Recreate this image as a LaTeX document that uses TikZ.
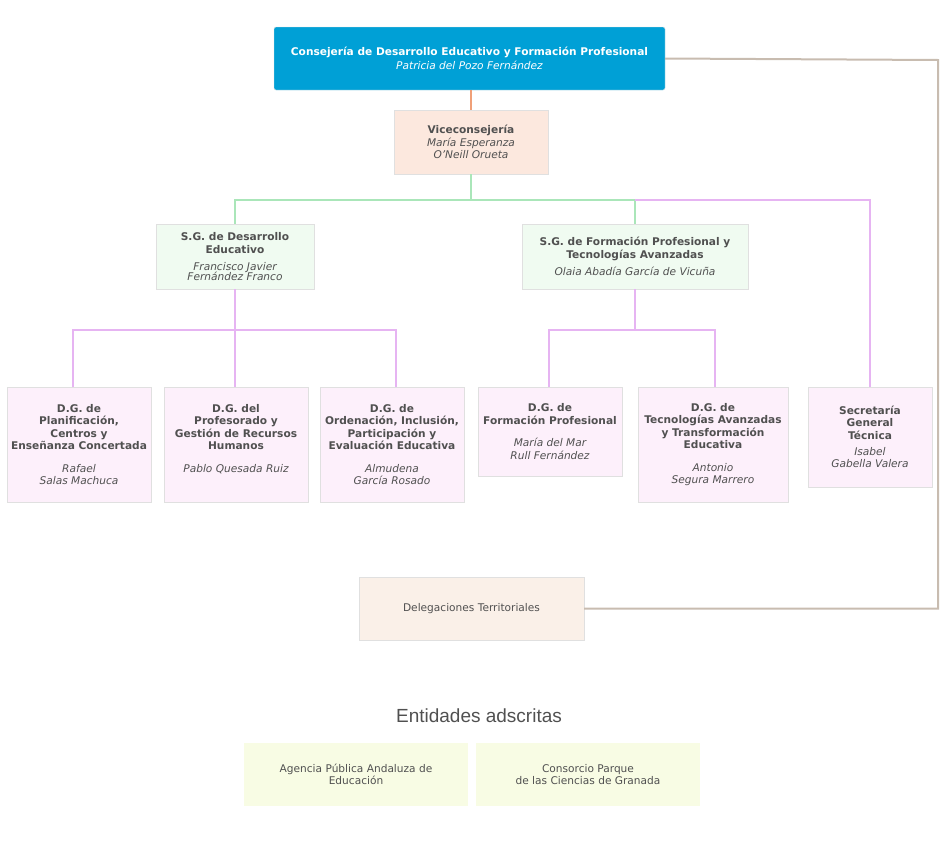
\documentclass[tikz,border=0pt]{standalone}
\usepackage{fontspec}
\setmainfont{DejaVu Sans}
\newfontfamily\titlefont{Liberation Sans}
\usetikzlibrary{positioning}
\definecolor{topblue}{RGB}{0,160,214}
\definecolor{vicefill}{RGB}{252,232,222}
\definecolor{sgfill}{RGB}{240,251,241}
\definecolor{dgfill}{RGB}{253,240,251}
\definecolor{delfill}{RGB}{250,240,232}
\definecolor{entfill}{RGB}{248,252,228}
\definecolor{lnorange}{RGB}{240,160,120}
\definecolor{lngreen}{RGB}{170,230,185}
\definecolor{lnpink}{RGB}{230,180,242}
\definecolor{lnbrown}{RGB}{200,188,176}
\definecolor{txtgray}{RGB}{80,80,80}
\tikzset{
  box/.style = {draw=black!12, text=txtgray, align=center, inner sep=2pt,
    font=\fontsize{10.6}{12.4}\selectfont, minimum height=#1},
  box/.default = 64pt,
  conn/.style = {line width=2pt},
}
\newcommand{\nm}[1]{{\itshape #1}}
\begin{document}
\begin{tikzpicture}[x=1pt, y=-1pt]
  \useasboundingbox (0,0) rectangle (940,849);
  % main nodes
  \node (cons) [box=63pt, fill=topblue, text=white, minimum width=391pt, rounded corners=2pt]
    at (469.5,58.5) {\textbf{Consejería de Desarrollo Educativo y Formación Profesional}\\[2pt]\nm{Patricia del Pozo Fernández}};
  \node (vice) [box, fill=vicefill, minimum width=154pt] at (471,142)
    {\textbf{Viceconsejería}\\\nm{María Esperanza}\\\nm{O’Neill Orueta}};
  \node (sg1) [box=65pt, fill=sgfill, minimum width=158pt] at (235,256.5)
    {\textbf{S.G. de Desarrollo}\\\textbf{Educativo}\\[5pt]\nm{Francisco Javier}\\[-3pt]\nm{Fernández Franco}};
  \node (sg2) [box=65pt, fill=sgfill, minimum width=226pt] at (635,256.5)
    {\textbf{S.G. de Formación Profesional y}\\\textbf{Tecnologías Avanzadas}\\[5pt]\nm{Olaia Abadía García de Vicuña}};
  % direcciones generales
  \node (dg1) [box=115pt, fill=dgfill, minimum width=144pt] at (79,444.5)
    {\textbf{D.G. de}\\\textbf{Planificación,}\\\textbf{Centros y}\\\textbf{Enseñanza Concertada}\\[10pt]\nm{Rafael}\\\nm{Salas Machuca}};
  \node (dg2) [box=115pt, fill=dgfill, minimum width=144pt] at (236,444.5)
    {\textbf{D.G. del}\\\textbf{Profesorado y}\\\textbf{Gestión de Recursos}\\\textbf{Humanos}\\[10pt]\nm{Pablo Quesada Ruiz}\\~};
  \node (dg3) [box=115pt, fill=dgfill, minimum width=144pt] at (392,444.5)
    {\textbf{D.G. de}\\\textbf{Ordenación, Inclusión,}\\\textbf{Participación y}\\\textbf{Evaluación Educativa}\\[10pt]\nm{Almudena}\\\nm{García Rosado}};
  \node (dg4) [box=89pt, fill=dgfill, minimum width=144pt] at (550,431.5)
    {\textbf{D.G. de}\\\textbf{Formación Profesional}\\[10pt]\nm{María del Mar}\\\nm{Rull Fernández}};
  \node (dg5) [box=115pt, fill=dgfill, minimum width=150pt] at (713,444.5)
    {\textbf{D.G. de}\\\textbf{Tecnologías Avanzadas}\\\textbf{y Transformación}\\\textbf{Educativa}\\[10pt]\nm{Antonio}\\\nm{Segura Marrero}};
  \node (sgt) [box=100pt, fill=dgfill, minimum width=124pt] at (870,437)
    {\textbf{Secretaría}\\\textbf{General}\\\textbf{Técnica}\\[4pt]\nm{Isabel}\\\nm{Gabella Valera}};
  \node (del) [box=63pt, fill=delfill, minimum width=225pt] at (471.5,608.5)
    {Delegaciones Territoriales};
  % entidades
  \node (ent) at (479,716) {\titlefont\fontsize{19}{21}\selectfont\color{txtgray}Entidades adscritas};
  \node (ag) [box=63pt, draw=none, fill=entfill, minimum width=224pt] at (356,774.5)
    {Agencia Pública Andaluza de\\Educación};
  \node (cp) [box=63pt, draw=none, fill=entfill, minimum width=224pt] at (588,774.5)
    {Consorcio Parque\\de las Ciencias de Granada};
  % conectores
  \coordinate (j1) at (471,200);
  \coordinate (j2) at (235,330);
  \coordinate (j3) at (635,330);
  \draw[conn, lnorange] (cons.south -| vice) -- (vice.north);
  \draw[conn, lngreen] (vice.south) -- (j1) -| (sg1.north);
  \draw[conn, lngreen] (j1) -| (sg2.north);
  \draw[conn, lnpink] (sg2.north |- j1) -| (sgt.north);
  \draw[conn, lnpink] (sg1.south) -- (j2) -| (73,387);
  \draw[conn, lnpink] (j2) -| (396,387);
  \draw[conn, lnpink] (j2) -- (dg2.north -| j2);
  \draw[conn, lnpink] (sg2.south) -- (j3) -| (549,387);
  \draw[conn, lnpink] (j3) -| (715,387);
  \draw[conn, lnbrown] (cons.east) -- (938,60) |- (del.east);
\end{tikzpicture}
\end{document}
